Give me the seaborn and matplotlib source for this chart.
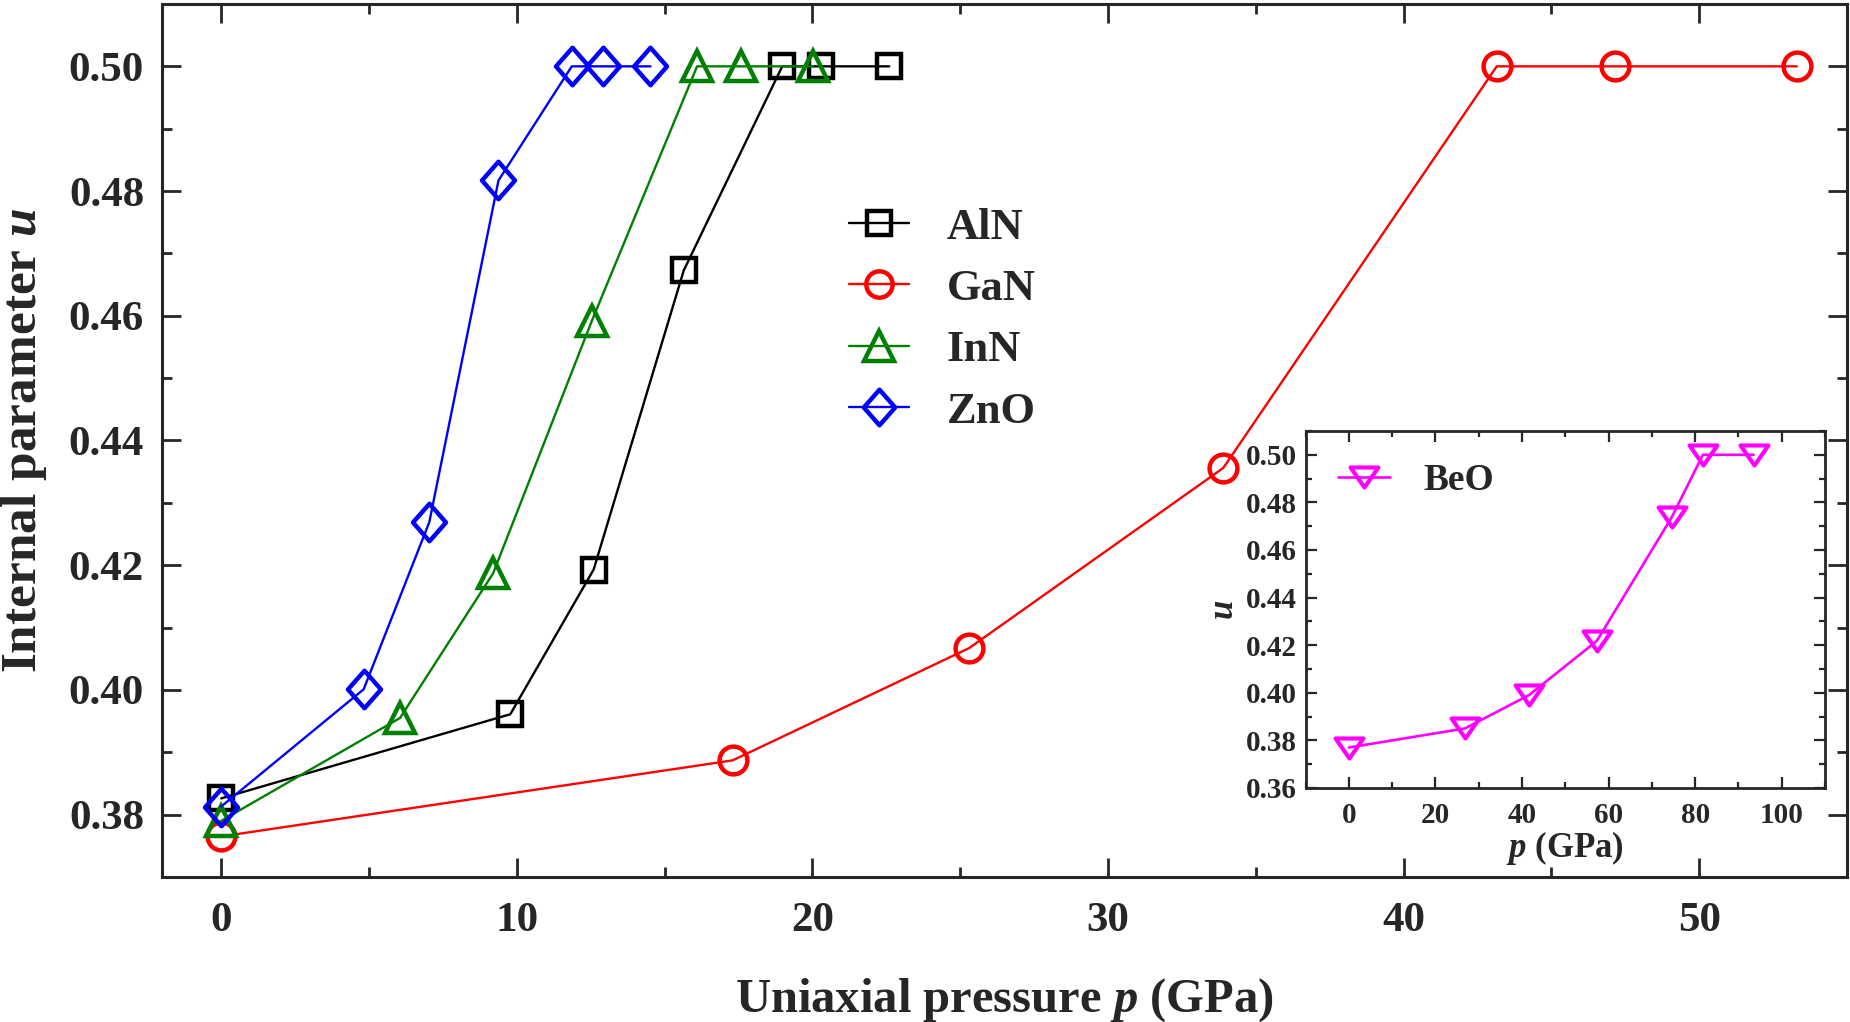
import numpy as np
import matplotlib
matplotlib.use("Agg")
import matplotlib.pyplot as plt
from matplotlib.path import Path
from matplotlib.ticker import MultipleLocator
import seaborn as sns

# ---------------- data ----------------
aln_p = [0.0, 9.78, 12.6, 15.65, 18.98, 20.3, 22.6]
aln_u = [0.3826, 0.3961, 0.4193, 0.4673, 0.500, 0.500, 0.500]

gan_p = [0.0, 17.3, 25.3, 33.9, 43.15, 47.15, 53.3]
gan_u = [0.3765, 0.3887, 0.4067, 0.4356, 0.500, 0.500, 0.500]

inn_p = [0.0, 6.05, 9.2, 12.54, 16.1, 17.6, 20.02]
inn_u = [0.3790, 0.3955, 0.4187, 0.4592, 0.500, 0.500, 0.500]

zno_p = [0.0, 4.82, 7.04, 9.38, 11.86, 12.9, 14.52]
zno_u = [0.3813, 0.4001, 0.4269, 0.4817, 0.500, 0.500, 0.500]

beo_p = [0.0, 26.8, 41.6, 57.3, 74.6, 81.8, 93.5]
beo_u = [0.3770, 0.3850, 0.3990, 0.4218, 0.4738, 0.500, 0.500]

series_names = ["AlN", "GaN", "InN", "ZnO"]
xticks_main = [0, 10, 20, 30, 40, 50]
yticks_main = [0.38, 0.40, 0.42, 0.44, 0.46, 0.48, 0.50]
xticks_inset = [0, 20, 40, 60, 80, 100]
yticks_inset = [0.36, 0.38, 0.40, 0.42, 0.44, 0.46, 0.48, 0.50]

# ---------------- style ----------------
sns.set_style("ticks")
plt.rcParams["font.family"] = ["Liberation Serif", "DejaVu Serif"]
plt.rcParams["font.weight"] = "bold"
plt.rcParams["axes.labelweight"] = "bold"
plt.rcParams["mathtext.fontset"] = "custom"
plt.rcParams["mathtext.it"] = "Liberation Serif:italic:bold"
plt.rcParams["mathtext.rm"] = "Liberation Serif:bold"
plt.rcParams["mathtext.bf"] = "Liberation Serif:bold"

fig = plt.figure(figsize=(18.5, 10.22), dpi=100)
ax = fig.add_axes([0.0876, 0.1419, 0.9108, 0.8542])

diamond = Path([(0, 1), (0.88, 0), (0, -1), (-0.88, 0), (0, 1)], closed=True)
flat_down = Path([(-1, 0.72), (1, 0.72), (0, -0.72), (-1, 0.72)], closed=True)

styles = [
    (aln_p, aln_u, "AlN", "black", "s", 17.5),
    (gan_p, gan_u, "GaN", "#ff0000", "o", 20),
    (inn_p, inn_u, "InN", "#008000", "^", 22),
    (zno_p, zno_u, "ZnO", "#0000ff", diamond, 27),
]
for p, u, name, c, m, ms in styles:
    sns.lineplot(x=p, y=u, ax=ax, color=c, lw=1.7, marker=m, markersize=ms,
                 markerfacecolor="none", markeredgecolor=c, markeredgewidth=3.2,
                 estimator=None, sort=False, label=name)

ax.set_xlim(-2, 55)
ax.set_ylim(0.37, 0.51)
ax.set_xticks(xticks_main)
ax.set_yticks(yticks_main)
ax.set_yticklabels([f"{v:.2f}" for v in yticks_main])
ax.xaxis.set_minor_locator(MultipleLocator(5))
ax.yaxis.set_minor_locator(MultipleLocator(0.01))
ax.tick_params(which="both", direction="in", top=True, right=True, width=2.0,
               labelsize=31)
ax.tick_params(axis="x", which="major", length=14, pad=18)
ax.tick_params(axis="y", which="major", length=14, pad=13)
ax.tick_params(which="minor", length=7)
for lab in ax.get_xticklabels() + ax.get_yticklabels():
    lab.set_fontweight("bold")
for s in ax.spines.values():
    s.set_linewidth(2.2)
ax.set_xlabel(r"Uniaxial pressure $p$ (GPa)", fontsize=35, fontweight="bold", labelpad=26)
ax.set_ylabel(r"Internal parameter $u$", fontsize=37, fontweight="bold", labelpad=14)

leg = ax.legend(loc="upper left", bbox_to_anchor=(0.459, 0.797),
                bbox_transform=fig.transFigure, frameon=False,
                prop={"family": "Liberation Serif", "weight": "bold", "size": 32},
                handlelength=1.35, handletextpad=0.85, labelspacing=0.48,
                borderpad=0, borderaxespad=0, markerscale=0.95)

# ---------------- inset ----------------
ins = fig.add_axes([0.7057, 0.2290, 0.2808, 0.3493])
sns.lineplot(x=beo_p, y=beo_u, ax=ins, color="#ff00ff", lw=1.9, marker=flat_down,
             markersize=20, markerfacecolor="none", markeredgecolor="#ff00ff",
             markeredgewidth=3.0, estimator=None, sort=False, label="BeO")
ins.set_xlim(-10, 110)
ins.set_ylim(0.36, 0.51)
ins.set_xticks(xticks_inset)
ins.set_yticks(yticks_inset)
ins.set_yticklabels([f"{v:.2f}" for v in yticks_inset])
ins.xaxis.set_minor_locator(MultipleLocator(10))
ins.yaxis.set_minor_locator(MultipleLocator(0.01))
ins.tick_params(which="both", direction="in", top=True, right=True, width=1.6,
                labelsize=21)
ins.tick_params(which="major", length=8)
ins.tick_params(which="minor", length=4)
ins.tick_params(axis="x", which="major", pad=10)
ins.tick_params(axis="y", which="major", pad=6)
for lab in ins.get_xticklabels() + ins.get_yticklabels():
    lab.set_fontweight("bold")
for s in ins.spines.values():
    s.set_linewidth(2.0)
ins.set_xlabel(r"$p$ (GPa)", fontsize=25, fontweight="bold", labelpad=0)
ins.set_ylabel(r"$u$", fontsize=25, fontweight="bold", labelpad=4)
ins.legend(loc="upper left", bbox_to_anchor=(0.723, 0.547),
           bbox_transform=fig.transFigure, frameon=False,
           prop={"family": "Liberation Serif", "weight": "bold", "size": 27},
           handlelength=1.4, handletextpad=0.9, borderpad=0, borderaxespad=0)

fig.savefig("out.png", dpi=100, facecolor="white")
